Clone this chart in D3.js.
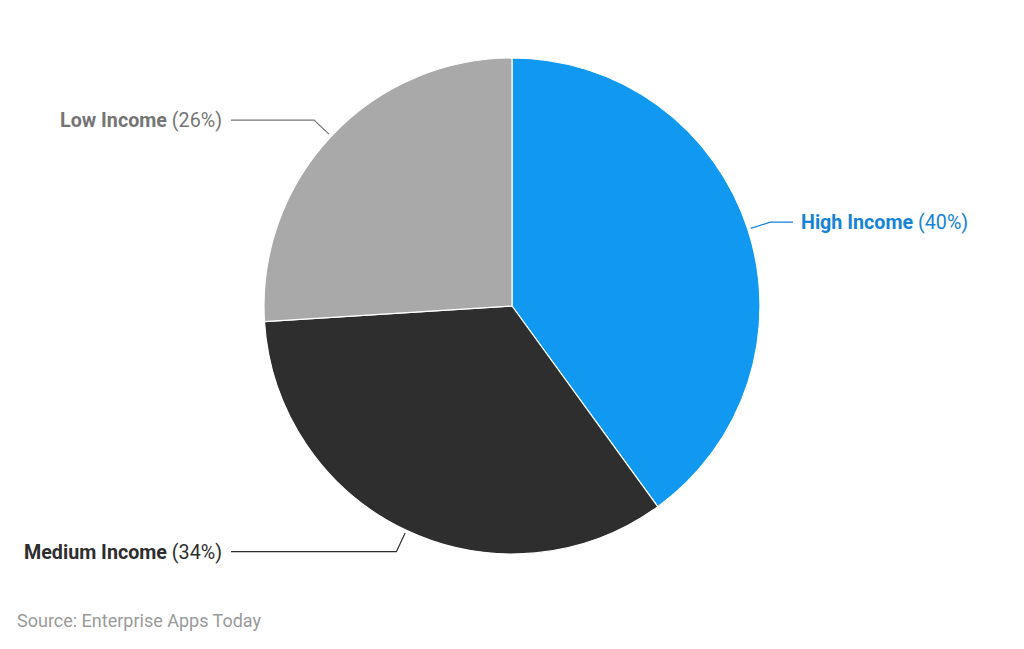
<!DOCTYPE html>
<html><head><meta charset="utf-8">
<script src="https://cdn.jsdelivr.net/npm/d3@7"></script>
<style>body{margin:0;background:#fff}svg{display:block}text{font-family:Roboto,"Open Sans",sans-serif}</style>
</head><body>
<svg id="c" width="1024" height="649"></svg>
<script>
const categories = ["High Income", "Medium Income", "Low Income"];
const values = [40, 34, 26];
const sliceColors = ["#1198f1", "#2e2e2e", "#a9a9a9"];
const labelColors = ["#1583d6", "#2e2e2e", "#757575"];
const source = "Source: Enterprise Apps Today";

const svg = d3.select("#c");
const cx = 512, cy = 306, r = 248;
const g = svg.append("g").attr("transform", `translate(${cx},${cy})`);
const pie = d3.pie().sort(null).value(d => d)(values);
const arc = d3.arc().innerRadius(0).outerRadius(r);
g.selectAll("path.s").data(pie).join("path").attr("class","s")
  .attr("d", arc).attr("fill", (d,i) => sliceColors[i])
  .attr("stroke", "#fff").attr("stroke-width", 1.2);

const inner = d3.arc().innerRadius(r + 3).outerRadius(r + 3);
const elbow = d3.arc().innerRadius(r * 1.095).outerRadius(r * 1.095);
pie.forEach((d, i) => {
  const mid = (d.startAngle + d.endAngle) / 2;
  const dd = {startAngle: mid, endAngle: mid};
  const p0 = inner.centroid(dd), p1 = elbow.centroid(dd);
  const right = mid < Math.PI;
  const xe = right ? 281 : -281;
  g.append("polyline")
    .attr("points", [p0, p1, [xe, p1[1]]].map(p => p.join(",")).join(" "))
    .attr("fill", "none").attr("stroke", labelColors[i]).attr("stroke-width", 1.2);
  const t = g.append("text")
    .attr("x", right ? 289 : -290).attr("y", p1[1]).attr("dy", "0.35em")
    .attr("text-anchor", right ? "start" : "end")
    .attr("font-size", 19.7).attr("fill", labelColors[i]);
  t.append("tspan").attr("font-weight", "bold").text(categories[i]);
  t.append("tspan").text(" (" + values[i] + "%)");
});

svg.append("text").attr("x", 17).attr("y", 627).attr("font-size", 18)
  .attr("fill", "#9a9a9a").text(source);
</script>
</body></html>
